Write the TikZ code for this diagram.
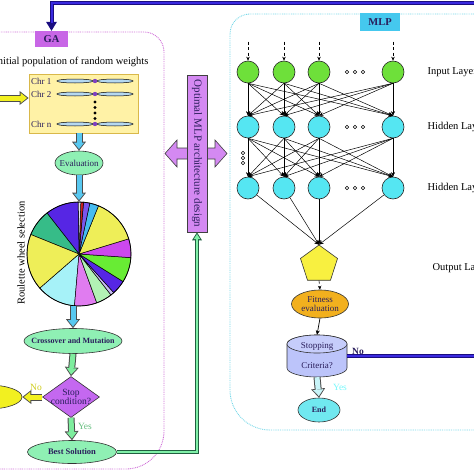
\documentclass[tikz,border=0pt]{standalone}
\usepackage{fontspec}
\setmainfont{Liberation Serif}
\usetikzlibrary{arrows.meta,shapes.geometric,calc,positioning}

\definecolor{txt}{HTML}{2A1E5C}
\definecolor{gaviolet}{HTML}{C866E6}
\definecolor{mlpcyan}{HTML}{45C8EE}
\definecolor{gadot}{HTML}{D070D8}
\definecolor{mlpdot}{HTML}{78D8E8}
\definecolor{chrfill}{HTML}{FFF2A6}
\definecolor{chrdraw}{HTML}{D9B84A}
\definecolor{chrell}{HTML}{B5D8F0}
\definecolor{chrdot}{HTML}{8040C0}
\definecolor{flowgreen}{HTML}{8FF0B4}
\definecolor{arrcyan}{HTML}{58C8F0}
\definecolor{arrgreen}{HTML}{7EEE9E}
\definecolor{arrpale}{HTML}{C8F4F8}
\definecolor{stopviolet}{HTML}{C468F0}
\definecolor{yel}{HTML}{F2F020}
\definecolor{ingreen}{HTML}{6EE03A}
\definecolor{hidcyan}{HTML}{55E6F2}
\definecolor{pentyel}{HTML}{F8F040}
\definecolor{fitorange}{HTML}{F2B01E}
\definecolor{critfill}{HTML}{BCC4FA}
\definecolor{endcyan}{HTML}{70E8F0}
\definecolor{optfill}{HTML}{D489F2}
\definecolor{navyl}{HTML}{1A0D80}
\definecolor{bluel}{HTML}{3A2AE0}
\definecolor{gdark}{HTML}{206040}
\definecolor{glight}{HTML}{80F0A8}
% wheel slices
\definecolor{pcyan}{HTML}{A6F2F8}
\definecolor{ppink}{HTML}{E07CF0}
\definecolor{plgreen}{HTML}{B2F2B4}
\definecolor{plav}{HTML}{C8BCF2}
\definecolor{pblue}{HTML}{5626E4}
\definecolor{pgreen}{HTML}{68EC34}
\definecolor{pmag}{HTML}{CC48EE}
\definecolor{pyel}{HTML}{EEEE58}
\definecolor{psky}{HTML}{46BCF0}
\definecolor{ppurp}{HTML}{7A56EE}
\definecolor{pred}{HTML}{CC2020}
\definecolor{pwhite}{HTML}{E4E4F0}
\definecolor{pteal}{HTML}{36BC88}

\tikzset{
  flow/.style={ellipse, draw=black!80, line width=0.6pt, inner xsep=-8pt, inner ysep=-2pt,
    text=txt, align=center, font=\fontsize{9}{9}\selectfont},
  neuron/.style={circle, draw=black!85, line width=0.6pt, minimum size=22pt, inner sep=0pt},
  syn/.style={-{Stealth[length=4.5pt,width=4pt]}, line width=0.5pt},
  inarr/.style={-{Stealth[length=4pt,width=3.5pt]}, line width=0.6pt, dash pattern=on 3pt off 2.5pt},
  blkout/.style={line width=7pt, draw=black!70, -{Triangle[length=9pt,width=14pt,line width=0pt]}},
  blkin/.style={line width=5pt, draw=#1, shorten >=1.6pt, -{Triangle[length=6.5pt,width=10.5pt,line width=0pt]}},
  gaframe/.style={draw=gadot, line width=0.9pt, dash pattern=on 0.9pt off 0.9pt},
  mlpframe/.style={draw=mlpdot, line width=0.9pt, dash pattern=on 0.9pt off 0.9pt},
  layer/.style={anchor=west, font=\fontsize{10.5}{12}\selectfont},
}

\begin{document}
\begin{tikzpicture}[x=1pt,y=-1pt]
  \useasboundingbox (0,0) rectangle (474,474);

  % frames
  \draw[gaframe] (-10,32) [rounded corners=20pt] -- (164,32) -- (164,250)
    [rounded corners=38pt] -- (164,469) -- (-10,469);
  \draw[mlpframe] (490,14) [rounded corners=20pt] -- (230,14) -- (230,220)
    [rounded corners=40pt] -- (230,430) -- (490,430);
  \node[fill=gaviolet, minimum width=33pt, minimum height=16pt, text=txt,
    font=\bfseries\fontsize{10.5}{12}\selectfont] (ga) at (51.5,39) {GA};
  \node[fill=mlpcyan, minimum width=40pt, minimum height=18pt, text=txt,
    font=\bfseries\fontsize{10.5}{12}\selectfont] (mlp) at (380,22) {MLP};

  % GA side
  \node[anchor=east, font=\fontsize{10.5}{12}\selectfont] (init) at (152,62) {Initial population of random weights};
  \node[draw=chrdraw, fill=chrfill, line width=0.8pt, minimum width=109pt, minimum height=59pt] (chrbox) at (83.5,103.5) {};
  \foreach \y\t in {81/Chr 1, 94/Chr 2, 124/Chr n}{
    \node[anchor=west, inner sep=0pt, text=txt, font=\fontsize{9}{10}\selectfont] at (31,\y) {\t};
    \draw[fill=chrell, line width=0.5pt] (75,\y) ellipse (18pt and 2pt);
    \draw[fill=chrell, line width=0.5pt] (115,\y) ellipse (18pt and 2pt);
    \fill[chrdot] (95,\y) circle (2.2pt);
  }
  \foreach \y in {102,107.5,113,118.5}
    \fill (95,\y) circle (1.6pt);
  \coordinate (feed) at (-10,98);
  \draw[blkout] (feed) -- (chrbox.west |- feed);
  \draw[blkin=yel] (feed) -- (chrbox.west |- feed);

  \node[flow, fill=flowgreen, minimum width=48pt, minimum height=24pt] (eval) at (79,163) {Evaluation};
  \draw[blkout] (eval.north |- chrbox.south) -- (eval.north);
  \draw[blkin=arrcyan] (eval.north |- chrbox.south) -- (eval.north);

  % roulette wheel
  \begin{scope}[shift={(79,254)}, yscale=-1]
    \foreach \a\b\c in {-139/-95/pcyan, -95/-70/ppink, -70/-52/plgreen, -52/-48/plav,
        -48/-32/pblue, -32/-4/pgreen, -4/17/pmag, 17/68/pyel, 68/78/psky, 78/85/ppurp,
        85/88/pred, 88/91/pwhite, 91/128/pblue, 128/158/pteal, 158/221/pyel}
      \draw[fill=\c, line width=0.5pt] (0,0) -- (\a:52) arc[start angle=\a, end angle=\b, radius=52] -- cycle;
  \end{scope}
  \node[circle, draw, line width=0.7pt, minimum size=104pt, inner sep=0pt] (wheel) at (79,254) {};
  \node[rotate=90, font=\fontsize{10.5}{12}\selectfont] (rws) at (21,253) {Roulette wheel selection};
  \draw[blkout] (eval.south) -- (wheel.north);
  \draw[blkin=arrcyan] (eval.south) -- (wheel.north);

  \node[flow, fill=flowgreen, minimum width=98pt, minimum height=25pt,
    font=\bfseries\fontsize{8}{9}\selectfont] (cross) at (73,341) {Crossover and Mutation};
  \draw[blkout] (cross.north |- wheel.south) -- (cross.north);
  \draw[blkin=arrcyan] (cross.north |- wheel.south) -- (cross.north);

  \node[diamond, draw=black!80, line width=0.6pt, fill=stopviolet, minimum width=57pt, minimum height=41pt,
    inner sep=-8pt, align=center, text=txt, font=\fontsize{9.5}{9.5}\selectfont] (stop) at (71,397) {Stop\\condition?};
  \draw[blkout] (cross.south) -- (stop.north);
  \draw[blkin=arrgreen] (cross.south) -- (stop.north);

  \node[ellipse, draw=black!80, line width=0.6pt, fill=yel, minimum width=68pt, minimum height=24pt] (restart) at (-12,397) {};
  \draw[blkout] (stop.west) -- (restart.east);
  \draw[blkin=yel] (stop.west) -- (restart.east);
  \node[text=yel!85!black, font=\fontsize{9.5}{11}\selectfont] (no1) at (36,387) {No};

  \node[flow, fill=flowgreen, minimum width=89pt, minimum height=23pt,
    font=\bfseries\fontsize{8.5}{9}\selectfont] (best) at (72,452) {Best Solution};
  \draw[blkout] (stop.south) -- (best.north);
  \draw[blkin=arrgreen] (stop.south) -- (best.north);
  \node[text=arrgreen!80!black, font=\fontsize{9.5}{11}\selectfont] (yes1) at (85,426) {Yes};

  % architecture design link
  \draw[fill=optfill, draw=black!75, line width=0.6pt] (165,153.5) -- (177,140) -- (177,148) -- (215,148)
    -- (215,140) -- (227,153.5) -- (215,167) -- (215,159) -- (177,159) -- (177,167) -- cycle;
  \node[rotate=-90, draw=black!75, line width=0.6pt, fill=optfill, minimum width=157pt, minimum height=20pt,
    inner sep=0pt, text=txt, font=\fontsize{11}{12}\selectfont] (opt) at (197,153.5) {Optimal MLP architecture design};
  \draw[line width=4.5pt, gdark, -{Triangle[length=8pt,width=10pt,line width=0pt]}] (best.east) -| (opt.east);
  \draw[line width=2.5pt, glight, shorten >=1.8pt, -{Triangle[length=5pt,width=6.4pt,line width=0pt]}] (best.east) -| (opt.east);

  % MLP side
  \foreach \x [count=\i] in {248,284,319,393}{
    \node[neuron, fill=ingreen] (in\i) at (\x,72) {};
    \node[neuron, fill=hidcyan] (ha\i) at (\x,127) {};
    \node[neuron, fill=hidcyan] (hb\i) at (\x,188) {};
    \draw[inarr] ($(in\i.north)+(0,-19)$) -- (in\i.north);
  }
  \foreach \i in {1,...,4}
    \foreach \j in {1,...,4}{
      \draw[syn] (in\i.south) -- (ha\j.north);
      \draw[syn] (ha\i.south) -- (hb\j.north);
    }
  \foreach \y in {72,127,188}
    \foreach \x in {347,355,363}
      \draw[line width=0.6pt] (\x,\y) circle (1.8pt);
  \foreach \y in {153,158,163}
    \draw[line width=0.6pt] (243,\y) circle (1.8pt);

  \node[regular polygon, regular polygon sides=5, minimum size=39pt, inner sep=0pt,
    draw=black!80, line width=0.6pt, fill=pentyel] (out) at (319,264.5) {};
  \foreach \i in {1,...,4}
    \draw[syn] (hb\i) -- (out.north);

  \node[flow, fill=fitorange, minimum width=57pt, minimum height=28pt] (fit) at (320,304) {Fitness\\evaluation};
  \draw[inarr] (out.south) -- (fit.north);

  % stopping criteria drum
  \node[minimum width=60pt, minimum height=42pt, inner sep=0pt] (crit) at (317,356) {};
  \draw[fill=critfill, draw=black!80, line width=0.6pt] (287,368) arc (180:360:30pt and 9pt)
    -- (347,344) arc (0:180:30pt and 9pt) -- cycle;
  \draw[fill=critfill!85!white, draw=black!80, line width=0.6pt] (317,344) ellipse (30pt and 9pt);
  \node[text=txt, font=\fontsize{9}{9}\selectfont] (critA) at (317,346) {Stopping};
  \node[text=txt, font=\fontsize{9}{9}\selectfont] (critB) at (317,366) {Criteria?};
  \draw[syn, line width=0.7pt] (fit.south) -- (crit.north);
  \node[font=\bfseries\fontsize{9.5}{11}\selectfont, text=txt] (no2) at (358,351) {No};

  \node[flow, fill=endcyan, minimum width=42pt, minimum height=24pt,
    font=\bfseries\fontsize{8}{9}\selectfont] (fin) at (319,410) {End};
  \draw[blkout] (crit.south) -- (fin.north);
  \draw[blkin=arrpale] (crit.south) -- (fin.north);
  \node[text=arrpale!60!cyan, font=\fontsize{9.5}{11}\selectfont] (yes2) at (340,387) {Yes};

  % loop back to GA
  \draw[line width=4pt, navyl, -{Triangle[length=9pt,width=11pt,line width=0pt]}] (crit.east) -| (500,3) -| (ga.north);
  \draw[line width=2pt, bluel, shorten >=8pt] (crit.east) -| (500,3) -| (ga.north);

  \node[layer] (lin) at (424,72) {Input Layer};
  \node[layer] (lha) at (424,127) {Hidden Layer};
  \node[layer] (lhb) at (424,188) {Hidden Layer};
  \node[layer] (lout) at (429,268) {Output Layer};
\end{tikzpicture}
\end{document}
